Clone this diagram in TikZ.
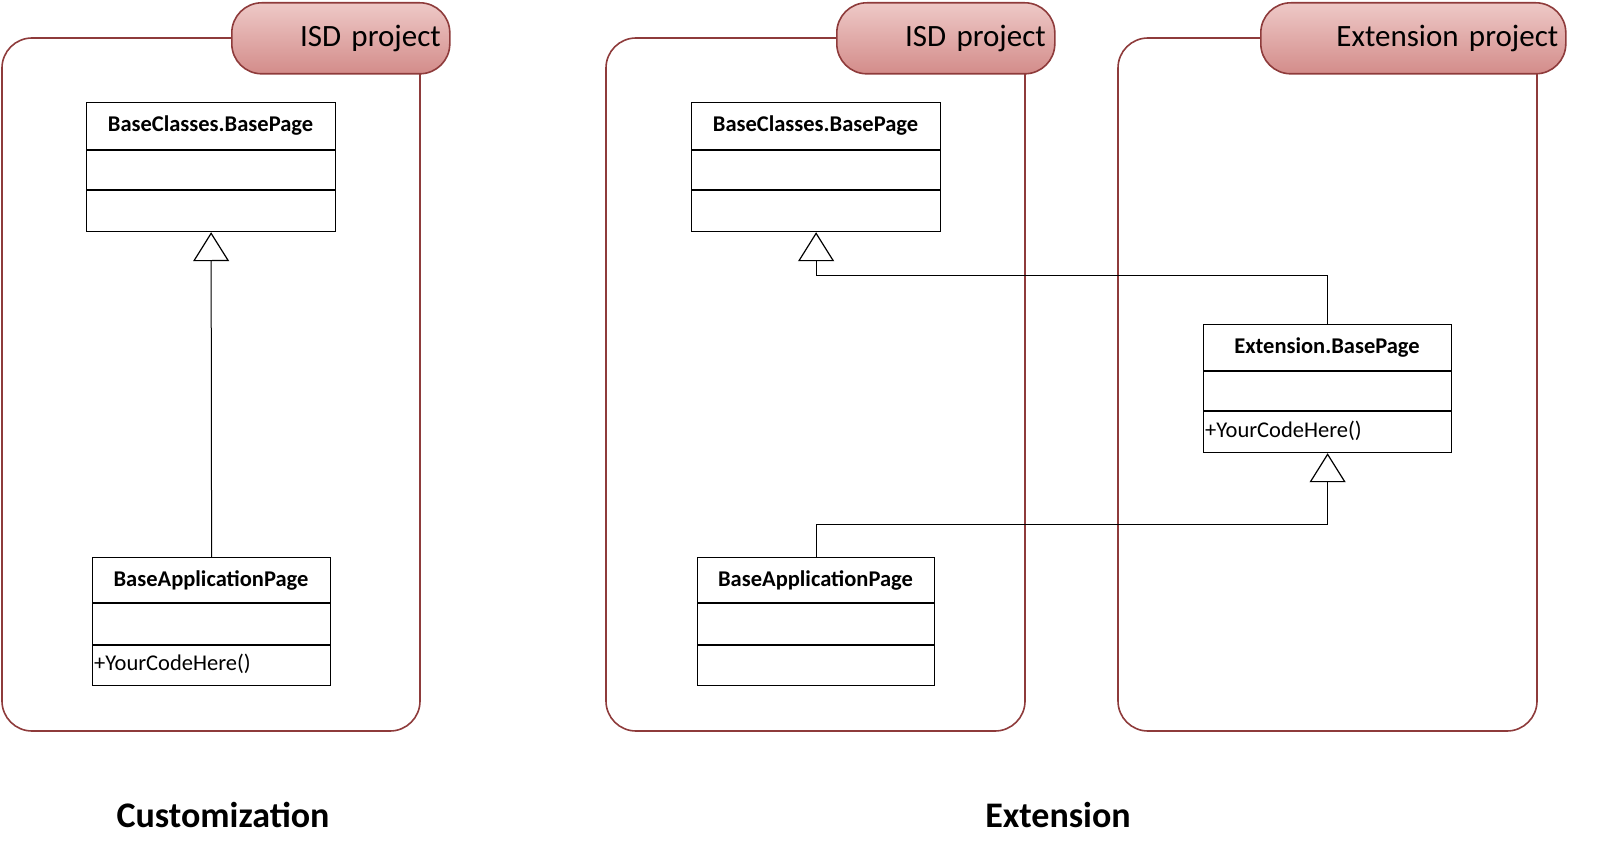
\documentclass[tikz,border=0pt]{standalone}
\usepackage{fontspec}
\setmainfont{Carlito}
\usetikzlibrary{arrows.meta,calc}
\definecolor{tabtop}{HTML}{EEC9C7}
\definecolor{tabbot}{HTML}{D38C8A}
\definecolor{frame}{HTML}{8E3B3B}
\begin{document}
\begin{tikzpicture}[x=1pt,y=-1pt,
  panel/.style={draw=frame,line width=1.6pt,rounded corners=30pt},
  tab/.style={draw=frame,line width=1.6pt,rounded corners=30pt,top color=tabtop,bottom color=tabbot,
    font=\fontsize{31}{33}\selectfont,anchor=north west,align=right,inner sep=0pt},
  cls/.style={draw=black,line width=1.2pt,anchor=north west,inner sep=0pt},
  cname/.style={font=\bfseries\fontsize{22.5}{25}\selectfont},
  op/.style={font=\fontsize{22.5}{25}\selectfont,anchor=west,inner sep=2pt},
  inh/.style={line width=1pt,-{Triangle[open,length=29pt,width=36pt,line width=1.2pt]}},
  caption/.style={font=\bfseries\fontsize{36}{40}\selectfont}]
\useasboundingbox (0,0) rectangle (1600,856);
% panels
\draw[panel] (2,38) rectangle (420,731);
\draw[panel] (606,38) rectangle (1025,731);
\draw[panel] (1118,38) rectangle (1537,731);
% tabs
\node[tab,minimum width=218pt,minimum height=71pt,text width=200pt] (t1) at (231,2) {ISD project\hspace*{4pt}};
\node[tab,minimum width=218pt,minimum height=71pt,text width=200pt] (t2) at (836,2) {ISD project\hspace*{4pt}};
\node[tab,minimum width=305pt,minimum height=71pt,text width=290pt] (t3) at (1260,2) {Extension project\hspace*{2pt}};
% class boxes
\newcommand{\umlclass}[8]{% name, x1,y1,x2,y2, div1, div2, title
  \node[cls,minimum width=#4-#2,minimum height=#5-#3] (#1) at (#2,#3) {};
  \draw[line width=1.2pt] (#2,#6) -- (#4,#6) (#2,#7) -- (#4,#7);
  \node[cname] (#1n) at ({(#2+#4)/2},{(#3+#6)/2}) {#8};}
\umlclass{bc1}{86}{102}{335}{231}{150}{190}{BaseClasses.BasePage}
\umlclass{ba1}{92}{557}{330}{685}{603}{645}{BaseApplicationPage}
\node[op] (op1) at (92,664) {+YourCodeHere()};
\umlclass{bc2}{691}{102}{940}{231}{150}{190}{BaseClasses.BasePage}
\umlclass{ext}{1203}{324}{1451}{452}{371}{411}{Extension.BasePage}
\node[op] (op2) at (1203,431) {+YourCodeHere()};
\umlclass{ba2}{697}{557}{934}{685}{603}{645}{BaseApplicationPage}
% inheritance
\draw[inh] (ba1.north) -- (bc1.south);
\draw[inh] (ext.north) -- ++(0,-49) -| (bc2.south);
\draw[inh] (ba2.north) -- ++(0,-33) -| (ext.south);
% captions
\node[caption] (c1) at (223,815) {Customization};
\node[caption] (c2) at (1058,815) {Extension};
\end{tikzpicture}
\end{document}
